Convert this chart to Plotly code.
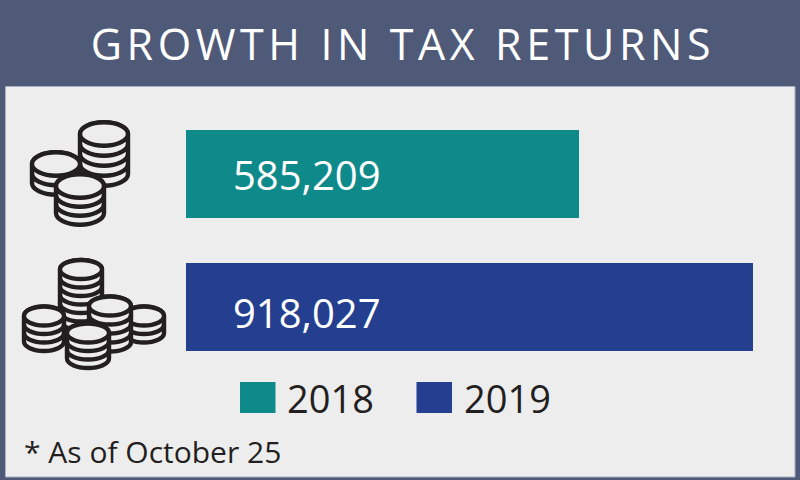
import plotly.graph_objects as go

years = ["2018", "2019"]
returns = [585209, 918027]
colors = ["#0e8a8a", "#243f8f"]
title = "GROWTH IN TAX RETURNS"
footnote = "* As of October 25"

# the bars in the picture do not start at zero, this is where they start
axis_start = -166500
W, H = 800, 480
bg = "#4f5a78"
panel = "#ededee"
ink = "#231f20"
font = "Open Sans"


def px(x):
    return x / W


def py(y):
    return 1 - y / H


def half_ellipse(cx, cy, rx, ry):
    # lower half, left to right, as a bezier in paper coordinates
    k = 0.5523
    return (
        f"C{px(cx - rx)},{py(cy + k * ry)} {px(cx - k * rx)},{py(cy + ry)} {px(cx)},{py(cy + ry)} "
        f"C{px(cx + k * rx)},{py(cy + ry)} {px(cx + rx)},{py(cy + k * ry)} {px(cx + rx)},{py(cy)} "
    )


def upper_ellipse(cx, cy, rx, ry):
    # upper half, right to left
    k = 0.5523
    return (
        f"C{px(cx + rx)},{py(cy - k * ry)} {px(cx + k * rx)},{py(cy - ry)} {px(cx)},{py(cy - ry)} "
        f"C{px(cx - k * rx)},{py(cy - ry)} {px(cx - rx)},{py(cy - k * ry)} {px(cx - rx)},{py(cy)} "
    )


def coin_stack(cx, top, rx, ry, layers, step):
    bottom = top + layers * step
    style = dict(type="path", xref="paper", yref="paper", line=dict(color=ink, width=4.4))
    out = []
    body = f"M{px(cx - rx)},{py(top)} L{px(cx - rx)},{py(bottom)} "
    body += half_ellipse(cx, bottom, rx, ry)
    body += f"L{px(cx + rx)},{py(top)} " + upper_ellipse(cx, top, rx, ry) + "Z"
    out.append(dict(path=body, fillcolor=panel, **style))
    for i in range(1, layers):
        y = top + i * step
        arc = f"M{px(cx - rx)},{py(y)} " + half_ellipse(cx, y, rx, ry)
        out.append(dict(path=arc, **style))
    lid = f"M{px(cx - rx)},{py(top)} " + half_ellipse(cx, top, rx, ry)
    lid += upper_ellipse(cx, top, rx, ry) + "Z"
    out.append(dict(path=lid, fillcolor=panel, **style))
    return out


fig = go.Figure()
for year, value, color in zip(years, returns, colors):
    fig.add_trace(
        go.Bar(
            x=[value - axis_start],
            y=[year],
            base=axis_start,
            orientation="h",
            width=0.662,
            name=year,
            marker=dict(color=color, line_width=0),
            showlegend=False,
        )
    )

shapes = [
    dict(
        type="rect", xref="paper", yref="paper", layer="below",
        x0=px(5.5), x1=px(795), y0=py(477), y1=py(86.5),
        fillcolor=panel, line=dict(color="#a9afc4", width=1),
    )
]
# small pile next to 2018
shapes += coin_stack(104, 134, 24, 11.7, 4, 10)
shapes += coin_stack(56, 164, 24, 11.7, 2, 9.5)
shapes += coin_stack(80, 186, 24, 11.7, 3, 9)
# bigger pile next to 2019
shapes += coin_stack(81, 269.5, 21, 9.5, 6, 8.5)
shapes += coin_stack(144, 316, 20, 9.5, 2, 8.5)
shapes += coin_stack(44, 316, 20, 9.5, 3, 8.5)
shapes += coin_stack(110, 306, 21, 9.5, 4, 9)
shapes += coin_stack(88, 333, 21, 9.5, 3, 8.5)

annotations = [
    dict(
        text=title, x=px(403), y=py(43.5),
        font=dict(size=43, color="white", family=font),
    ),
    dict(
        text=footnote, x=px(23), y=py(451), xanchor="left",
        font=dict(size=30, color=ink, family=font),
    ),
]
bar_text_y = [175, 312]
for value, y in zip(returns, bar_text_y):
    annotations.append(
        dict(
            text=f"{value:,}", x=px(232), y=py(y), xanchor="left",
            font=dict(size=40, color="white", family=font),
        )
    )

# legend is drawn by hand, plotly's swatches can't be this big
for year, color, x in zip(years, colors, [240, 416.5]):
    shapes.append(
        dict(
            type="rect", xref="paper", yref="paper",
            x0=px(x), x1=px(x + 35.5), y0=py(413), y1=py(382),
            fillcolor=color, line_width=0,
        )
    )
    annotations.append(
        dict(
            text=year, x=px(x + 46), y=py(398), xanchor="left",
            font=dict(size=38, color=ink, family=font),
        )
    )

for a in annotations:
    a.update(xref="paper", yref="paper", showarrow=False, yanchor="middle", borderpad=0)

fig.update_layout(
    width=W,
    height=H,
    margin=dict(l=0, r=0, t=0, b=0),
    paper_bgcolor=bg,
    plot_bgcolor="rgba(0,0,0,0)",
    barmode="overlay",
    shapes=shapes,
    annotations=annotations,
    xaxis=dict(visible=False, range=[axis_start, returns[1]], domain=[px(186), px(753)]),
    yaxis=dict(
        visible=False, autorange=False, range=[1.5, -0.5],
        domain=[py(373.5), py(107.5)], type="category",
        categoryorder="array", categoryarray=years,
    ),
)
# page margin off, and plotly has no letter spacing so set it on the title text
post = """
document.body.style.margin = '0';
document.querySelector('.annotation-text').style.letterSpacing = '4.6px';
"""
fig.write_html("out.html", config={"displayModeBar": False}, post_script=post)
